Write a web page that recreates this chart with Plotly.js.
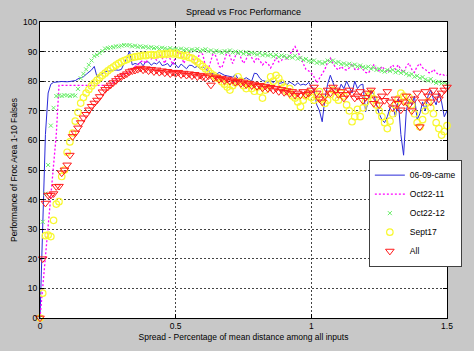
<!DOCTYPE html>
<html>
<head>
<meta charset="utf-8">
<script src="https://cdn.plot.ly/plotly-3.0.1.min.js"></script>
<style>html,body{margin:0;padding:0;background:#c8c8c8;}#chart{width:474px;height:351px;}</style>
</head>
<body>
<div id="chart"></div>
<script>
// Spread values (x axis), step 0.01
const spread = [0,0.01,0.02,0.03,0.04,0.05,0.06,0.07,0.08,0.09,
0.10,0.11,0.12,0.13,0.14,0.15,0.16,0.17,0.18,0.19,
0.20,0.21,0.22,0.23,0.24,0.25,0.26,0.27,0.28,0.29,
0.30,0.31,0.32,0.33,0.34,0.35,0.36,0.37,0.38,0.39,
0.40,0.41,0.42,0.43,0.44,0.45,0.46,0.47,0.48,0.49,
0.50,0.51,0.52,0.53,0.54,0.55,0.56,0.57,0.58,0.59,
0.60,0.61,0.62,0.63,0.64,0.65,0.66,0.67,0.68,0.69,
0.70,0.71,0.72,0.73,0.74,0.75,0.76,0.77,0.78,0.79,
0.80,0.81,0.82,0.83,0.84,0.85,0.86,0.87,0.88,0.89,
0.90,0.91,0.92,0.93,0.94,0.95,0.96,0.97,0.98,0.99,
1.00,1.01,1.02,1.03,1.04,1.05,1.06,1.07,1.08,1.09,
1.10,1.11,1.12,1.13,1.14,1.15,1.16,1.17,1.18,1.19,
1.20,1.21,1.22,1.23,1.24,1.25,1.26,1.27,1.28,1.29,
1.30,1.31,1.32,1.33,1.34,1.35,1.36,1.37,1.38,1.39,
1.40,1.41,1.42,1.43,1.44,1.45,1.46,1.47,1.48,1.49,
1.50];

const seriesNames = ["06-09-came", "Oct22-11", "Oct22-12", "Sept17", "All"];

const came0609 = [0,32,62,76,79,79.6,79.8,79.8,79.9,79.8,
79.8,79.9,80.0,80.2,80.8,81.2,81.5,82.3,83,83.8,
85,81.5,82,82.6,83.2,83.3,83.5,83.6,83.8,83.7,
84,86,87.8,90.2,85.5,86,85.7,86.4,85.2,86.6,
86.5,85.4,86.2,85.8,86.7,85.3,85.5,86,84.8,86.3,
85.6,84.5,85.8,85,84.2,85.4,85.3,84.6,85,84.3,
85,84,83.5,82.7,82.5,82.2,83,82.4,82,81.8,
81.6,81.4,82.3,80.9,81,80.6,81.2,80.5,80,82.7,
82.5,81,80.2,80,79.6,80.3,79.5,80.4,79.3,79.4,
79.8,78.8,79.7,79.2,78.5,79.5,78.7,79,78.7,79.6,
78.5,77,72,70,66.3,74,79,82,79.5,77,
76.5,79,77.5,80,78,76,80,77.5,78.7,79,
69.7,73.5,77,75.5,72,69,67,66,68,71,
72,68,74,62,55,70,74,72,75,67,
69,73,70,75,77,74,72,76,73,68,
70];

const oct2211 = [0,10,20,31,42,52,62,78.6,78.6,78.6,
78.6,78.6,78.6,78.6,78.6,78.6,78.6,78.6,78.6,78.6,
78.6,78.6,78.6,78.6,78.6,78.6,78.6,79.5,80.5,81.5,
82,82.5,82.8,83,84,85,85.5,86.5,87,86,
88,87.5,88.5,87,89,88,86,89,87.5,85.5,
88.5,90,89,86,88,90,88.5,85.5,87,90,
89,85,84,87,90,88,85,84.5,87.5,90,
88.5,86,88.5,90,88,86,87.5,89.5,88,86.5,
88,87,85.5,86.5,86,84.5,86,88,86.5,87,
88.5,87.5,89,90.5,91.7,90,88,86,84,83.5,
82.7,81.5,79.4,81,82.7,84,86.5,87.8,86,84.5,
83.8,85,84,83.8,84.5,86,84,83.8,85,84,
83,82.7,84,85.5,84,83.5,85,84,83,84.5,
85.5,84,85.5,84,83,85,86.1,84,83,85,
86,84.5,84,83,82.7,84,83,82,82.5,82,
82];

const oct2212 = [0,32.5,42,51.7,65,71,75,75.2,75,75.3,
75.2,75,75.3,75.1,77.4,81,82.5,84,85.5,87,
88.5,88.9,89.5,90.2,91,91.2,91.4,91.5,91.8,91.7,
92,92.2,92.1,92.2,91.8,92,91.6,91.8,91.5,91.7,
91.3,91.5,91.2,91.4,91,91.3,91.1,90.8,91.2,90.7,
90.9,90.6,91,90.5,90.8,90.3,90.7,90.4,90.9,90.2,
90.5,90.8,90.1,90.4,89.8,90.3,90,89.6,90.2,89.9,
90.4,89.7,90,89.5,89.9,89.3,89.8,89.2,89.6,89.4,
89,89.5,88.8,89.2,88.7,89,88.4,88.9,88.2,88.7,
88.5,87.9,88.4,88,88.6,87.6,87.9,87.2,87.5,86.8,
86.6,87,86.2,86.5,86,86.4,87,86.6,87,86.2,
86.5,85.8,86,85.5,85.9,85.3,85.6,85,85.3,84.8,
84.5,84.9,84.2,84.6,83.8,84.2,83.5,83.2,83.8,83.4,
83.8,83,83.5,82.8,83.2,82.5,82,82.4,81.5,81.8,
81,81.4,80.6,80.2,80.7,79.9,79.4,79.8,79.2,79.5,
79];

const sept17 = [0,8.4,27.8,28,27.5,33,38.5,39.3,47.8,50,
56,59.5,62.5,66.5,69.5,72.6,74.5,76,77.2,78.4,
79.4,80.3,81.2,82,82.7,83.5,84.2,84.8,85.4,86,
86.5,87,87.3,87.8,88,88.2,88.4,88.5,88.7,88.6,
88.9,89,88.8,88.9,89.2,89,89.3,89.1,89.5,89.2,
89.5,89,88.8,88.5,88.7,88,87.8,87.2,86.5,85.8,
85,84.2,83.5,82.6,82,81.2,80.8,79.8,79,78,
77,78.5,79.5,81.5,80,78.5,77.5,79,77.5,76.6,
78,76.6,74.3,77,79,81.5,80,82,81,79.4,
78,76.5,77.5,75,74.3,73,71.4,73.6,75,76,
74.5,73.6,75,76.5,74,72.5,73.6,75.5,77,74.5,
73.6,76,75,72,70,66.3,68,70.5,68,71,
73,75,76,74,72,70,68,66,64,66.5,
69,72,74,76,75,73,74.5,72,69,66,
64.6,67,70,73,71,69,66,64,61.8,63,
65];

const allInputs = [0,20,38.8,41.5,41.5,42,44.4,44.5,49,50,
51.7,55,61.3,62.5,64.2,66,67.6,68.8,70.3,71.5,
72.6,73.6,74.8,76.4,77.2,78,78.7,79.5,80.2,81,
81.5,82,82.5,83.2,83.5,83.7,84,84.4,83.8,84.2,
83.5,84,83.2,83.8,83,83.5,82.8,83.3,82.5,83,
82.6,83,82.2,82.7,82,82.5,81.8,82.3,81.5,82,
81.5,81.2,81.8,78.7,81,81.4,80.6,81,80.2,80.7,
80,80.4,79.6,80,79.2,79.7,78.8,79.3,78.5,79,
78.2,78.6,77.7,78.3,77.5,77.9,77,77.6,76.5,77.2,
76.2,76.8,75.8,76.5,75.3,76,75.3,76.5,75.5,76,
77,78,76,74,73,75,77,76,78,77,
75.5,76.5,74.3,75.5,77,76,74.3,75,76.5,73.5,
74.5,76,77,72.5,74,72,75,73.5,76.5,73,
71,74,72.5,70.3,73,75,72,70,74,76,
64.6,73,76.5,75,73,77,75,74,76,77,
78];

const xTicks = [0, 0.5, 1, 1.5];
const xTickText = ["0", "0.5", "1", "1.5"];
const yTicks = [0,10,20,30,40,50,60,70,80,90,100];

const FONT = "Liberation Sans, Arial, Helvetica, sans-serif";

const traces = [
  {x: spread, y: came0609, name: seriesNames[0], type: "scatter", mode: "lines",
   line: {color: "#2a2ad8", width: 1}},
  {x: spread, y: oct2211, name: seriesNames[1], type: "scatter", mode: "lines",
   line: {color: "#ff00ff", width: 1.3, dash: "2px,2px"}},
  {x: spread, y: oct2212, name: seriesNames[2], type: "scatter", mode: "markers", cliponaxis: false,
   marker: {symbol: "x-thin-open", size: 4, color: "#66ee66", line: {color: "#66ee66", width: 1}}},
  {x: spread, y: sept17, name: seriesNames[3], type: "scatter", mode: "markers", cliponaxis: false,
   marker: {symbol: "circle-open", size: 6.5, color: "#f8f830", line: {color: "#f8f830", width: 1.2}}},
  {x: spread, y: allInputs, name: seriesNames[4], type: "scatter", mode: "markers", cliponaxis: false,
   marker: {symbol: "triangle-down-open", size: 7.5, color: "#ff1a1a", line: {color: "#ff1a1a", width: 1}}}
];

const axisCommon = {
  showline: true, linecolor: "#000", linewidth: 1, mirror: "ticks",
  ticks: "inside", ticklen: 4, tickcolor: "#000",
  showgrid: true, gridcolor: "#444", gridwidth: 1, griddash: "2px,2px",
  zeroline: false, tickfont: {family: FONT, size: 8.5, color: "#000"}
};

const layout = {
  width: 474, height: 351,
  paper_bgcolor: "#c8c8c8", plot_bgcolor: "#ffffff",
  margin: {l: 40, r: 22, t: 22, b: 33},
  font: {family: FONT, color: "#000"},
  title: {text: "Spread vs Froc Performance", font: {family: FONT, size: 9, color: "#000"},
          xref: "paper", x: 0.5, yref: "container", y: 0.966, yanchor: "middle"},
  xaxis: Object.assign({}, axisCommon, {
    range: [0, 1.5], tickmode: "array", tickvals: xTicks, ticktext: xTickText,
    title: {text: "Spread - Percentage of mean distance among all inputs",
            font: {family: FONT, size: 8.5, color: "#000"}, standoff: 3}
  }),
  yaxis: Object.assign({}, axisCommon, {
    range: [0, 100], tickmode: "array", tickvals: yTicks,
    title: {text: "Performance of Froc Area 1-10 Falses",
            font: {family: FONT, size: 8.5, color: "#000"}, standoff: 4}
  }),
  showlegend: true,
  legend: {x: 0.808, y: 0.535, xanchor: "left", yanchor: "top",
           bgcolor: "#ffffff", bordercolor: "#404040", borderwidth: 1,
           font: {family: FONT, size: 8.5, color: "#000"}, itemwidth: 30, tracegroupgap: 0}
};

Plotly.newPlot("chart", traces, layout, {staticPlot: true, displayModeBar: false});
</script>
</body>
</html>
